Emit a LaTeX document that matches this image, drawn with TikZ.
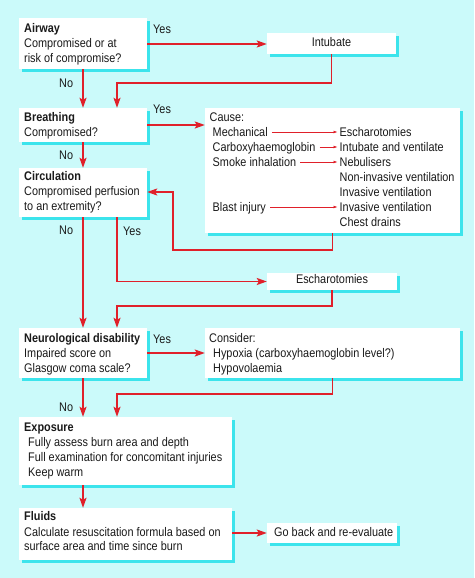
\documentclass[tikz,border=0pt]{standalone}
\usepackage{fontspec}
\setmainfont{Liberation Sans}[FakeStretch=0.87]
\usetikzlibrary{arrows.meta,shadows,fit,calc}
\definecolor{bgcyan}{HTML}{CBFAFA}
\definecolor{shcyan}{HTML}{3CE4EC}
\definecolor{linered}{HTML}{E0202A}
\definecolor{txtcol}{HTML}{1A1A1A}
\begin{document}
\begin{tikzpicture}[x=1pt,y=-1pt,
  box/.style={draw=none,fill=white,inner sep=0pt,
    drop shadow={shadow xshift=3pt,shadow yshift=-3pt,fill=shcyan,opacity=1}},
  txt/.style={anchor=base west,inner sep=0pt,text=txtcol,font=\fontsize{12.5}{15}\selectfont},
  ctxt/.style={anchor=base,inner sep=0pt,text=txtcol,font=\fontsize{12.5}{15}\selectfont},
  conn/.style={draw=linered,line width=1.6pt,-{Stealth[length=10pt,width=7pt,inset=2pt]}},
  thinarrow/.style={draw=linered,line width=0.6pt,-{Latex[length=4pt,width=3pt]}}]
\fill[bgcyan] (0,0) rectangle (474,578);
\useasboundingbox (0,0) rectangle (474,578);
\coordinate (colA) at (83,0);
\coordinate (colB) at (117,0);
% boxes
\node[box,fit={(19,18)(147,69)}] (airway) {};
\node[box,fit={(267,33)(396,54)}] (intubate) {};
\node[box,fit={(19,108)(147,142)}] (breathing) {};
\node[box,fit={(205,108)(460,233)}] (cause) {};
\node[box,fit={(19,168)(147,217)}] (circulation) {};
\node[box,fit={(267,273)(397,290)}] (esch) {};
\node[box,fit={(19,328)(147,378)}] (neuro) {};
\node[box,fit={(205,328)(460,378)}] (consider) {};
\node[box,fit={(19,417)(232,485)}] (exposure) {};
\node[box,fit={(19,508)(232,560)}] (fluids) {};
\node[box,fit={(267,523)(397,543)}] (goback) {};
% texts
\node[txt] (a1) at (24,33) {\bfseries Airway};
\node[txt] (a2) at (24,48) {Compromised or at};
\node[txt] (a3) at (24,63) {risk of compromise?};
\node[ctxt] (i1) at (331.5,47) {Intubate};
\node[txt] (b1) at (24,121) {\bfseries Breathing};
\node[txt] (b2) at (24,136) {Compromised?};
\node[txt] (c0) at (209.5,121.5) {Cause:};
\node[txt] (l1) at (212.5,136.5) {Mechanical};
\node[txt] (l2) at (212.5,151.5) {Carboxyhaemoglobin};
\node[txt] (l3) at (212.5,166.5) {Smoke inhalation};
\node[txt] (l4) at (212.5,211.5) {Blast injury};
\node[txt] (r1) at (339.5,136.5) {Escharotomies};
\node[txt] (r2) at (339.5,151.5) {Intubate and ventilate};
\node[txt] (r3) at (339.5,166.5) {Nebulisers};
\node[txt] (r4) at (339.5,181.5) {Non-invasive ventilation};
\node[txt] (r5) at (339.5,196.5) {Invasive ventilation};
\node[txt] (r6) at (339.5,211.5) {Invasive ventilation};
\node[txt] (r7) at (339.5,226.5) {Chest drains};
\node[txt] (ci1) at (24,180) {\bfseries Circulation};
\node[txt] (ci2) at (24,195.5) {Compromised perfusion};
\node[txt] (ci3) at (24,210.5) {to an extremity?};
\node[ctxt] (e1) at (332,283.5) {Escharotomies};
\node[txt] (n1) at (24,342.3) {\bfseries Neurological disability};
\node[txt] (n2) at (24,357.5) {Impaired score on};
\node[txt] (n3) at (24,372.5) {Glasgow coma scale?};
\node[txt] (k1) at (209,342.5) {Consider:};
\node[txt] (k2) at (213,357.5) {Hypoxia (carboxyhaemoglobin level?)};
\node[txt] (k3) at (213,372.5) {Hypovolaemia};
\node[txt] (x1) at (24,431.7) {\bfseries Exposure};
\node[txt] (x2) at (28,446.5) {Fully assess burn area and depth};
\node[txt] (x3) at (28,461.7) {Full examination for concomitant injuries};
\node[txt] (x4) at (28,476.7) {Keep warm};
\node[txt] (f1) at (24,520) {\bfseries Fluids};
\node[txt] (f2) at (24,536) {Calculate resuscitation formula based on};
\node[txt] (f3) at (24,550.7) {surface area and time since burn};
\node[txt] (g1) at (274,536.7) {Go back and re-evaluate};
% labels
\node[txt] (yes1) at (153,33.5) {Yes};
\node[txt] (no1) at (59,87) {No};
\node[txt] (yes2) at (153,113.5) {Yes};
\node[txt] (no2) at (59,159.5) {No};
\node[txt] (no3) at (59,234.5) {No};
\node[txt] (yes3) at (123,235) {Yes};
\node[txt] (yes4) at (153,343) {Yes};
\node[txt] (no4) at (59,411) {No};
% connectors
\draw[conn] (airway.east |- 0,44) -- (intubate.west |- 0,44);
\draw[conn] (intubate.south) -- (intubate.south |- 0,83) -| (colB |- breathing.north);
\draw[conn] (colA |- airway.south) -- (colA |- breathing.north);
\draw[conn] (breathing.east) -- (breathing.east -| cause.west);
\draw[conn] (colA |- breathing.south) -- (colA |- circulation.north);
\draw[conn] (cause.south) |- (173,250) |- (circulation.east |- 0,192);
\draw[conn] (colA |- circulation.south) -- (colA |- neuro.north);
\draw[conn] (colB |- circulation.south) |- (esch.west);
\draw[conn] (esch.south) -- ++(0,16) -| (colB |- neuro.north);
\draw[conn] (neuro.east) -- (neuro.east -| consider.west);
\draw[conn] (consider.south) -- ++(0,16) -| (colB |- exposure.north);
\draw[conn] (colA |- neuro.south) -- (colA |- exposure.north);
\draw[conn] (colA |- exposure.south) -- (colA |- fluids.north);
\draw[conn] (fluids.east |- goback.west) -- (goback.west);
% thin arrows in cause box
\draw[thinarrow] ($(l1.base east)+(4,-4.5)$) -- ($(r1.base west)+(-2,-4.5)$);
\draw[thinarrow] ($(l2.base east)+(4,-4.5)$) -- ($(r2.base west)+(-2,-4.5)$);
\draw[thinarrow] ($(l3.base east)+(4,-4.5)$) -- ($(r3.base west)+(-2,-4.5)$);
\draw[thinarrow] ($(l4.base east)+(4,-4.5)$) -- ($(r6.base west)+(-2,-4.5)$);
\end{tikzpicture}
\end{document}
